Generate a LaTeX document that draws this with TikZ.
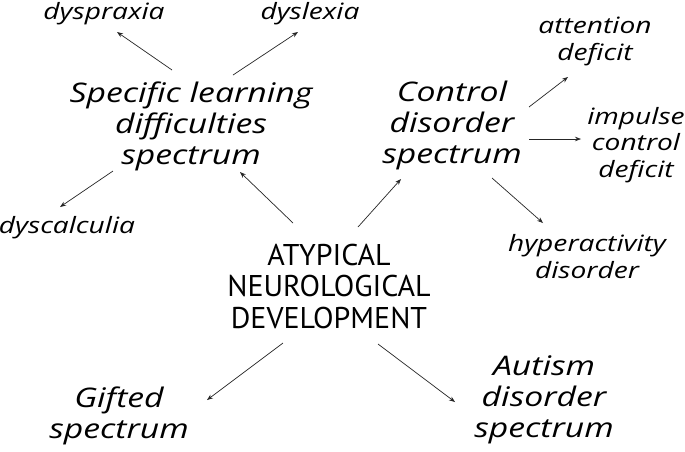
\documentclass[tikz,border=0pt]{standalone}
\usepackage{fontspec}
\usetikzlibrary{arrows.meta}
\newfontfamily\handfont{Open Sans}[FakeStretch=1.25]
\newfontfamily\capsfont{PT Sans}
\begin{document}
\begin{tikzpicture}[x=1pt,y=-1pt,
  big/.style={font=\handfont\itshape\fontsize{27}{31}\selectfont, align=center, anchor=base, inner sep=0pt},
  small/.style={font=\handfont\itshape\fontsize{22.5}{26.5}\selectfont, align=center, anchor=base, inner sep=0pt},
  mainlabel/.style={font=\capsfont\fontsize{30}{31.5}\selectfont, align=center, anchor=base, inner sep=0pt},
  arr/.style={-{Stealth[length=6pt,width=4.5pt]}, line width=0.7pt, draw=black!85}]
\useasboundingbox (0,0) rectangle (685,451);
\fill[white] (0,0) rectangle (685,451);
% nodes (base = baseline of the last line)
\node[small] (dp) at (104,19) {dyspraxia};
\node[small] (dx) at (310,19) {dyslexia};
\node[big] (sld) at (191,164) {Specific learning\\difficulties\\spectrum};
\node[big] (cds) at (452,163) {Control\\disorder\\spectrum};
\node[small] (att) at (595,60) {attention\\deficit};
\node[small] (imp) at (636,177) {impulse\\control\\deficit};
\node[small] (hyp) at (587,278) {hyperactivity\\disorder};
\node[small] (dc) at (67,233) {dyscalculia};
\node[mainlabel] (and) at (329,328) {ATYPICAL\\NEUROLOGICAL\\DEVELOPMENT};
\node[big] (gs) at (119,438) {Gifted\\spectrum};
\node[big] (ads) at (544,437) {Autism\\disorder\\spectrum};
% connector ends
\coordinate (sld-dp) at (172,70);   \coordinate (dp-in) at (117,32);
\coordinate (sld-dx) at (233,75);   \coordinate (dx-in) at (298,32);
\coordinate (sld-dc) at (113,171);  \coordinate (dc-in) at (60,207);
\coordinate (and-sld) at (293,223); \coordinate (sld-in) at (240,172);
\coordinate (and-cds) at (358,227); \coordinate (cds-in) at (401,179);
\coordinate (cds-att) at (529,107); \coordinate (att-in) at (568,77);
\coordinate (cds-imp) at (529,139); \coordinate (imp-in) at (581,139);
\coordinate (cds-hyp) at (492,178); \coordinate (hyp-in) at (543,223);
\coordinate (and-gs) at (283,343);  \coordinate (gs-in) at (207,400);
\coordinate (and-ads) at (378,344); \coordinate (ads-in) at (455,402);
% connectors
\draw[arr] (sld-dp) -- (dp-in);
\draw[arr] (sld-dx) -- (dx-in);
\draw[arr] (sld-dc) -- (dc-in);
\draw[arr] (and-sld) -- (sld-in);
\draw[arr] (and-cds) -- (cds-in);
\draw[arr] (cds-att) -- (att-in);
\draw[arr] (cds-imp) -- (imp-in);
\draw[arr] (cds-hyp) -- (hyp-in);
\draw[arr] (and-gs) -- (gs-in);
\draw[arr] (and-ads) -- (ads-in);
\end{tikzpicture}
\end{document}
